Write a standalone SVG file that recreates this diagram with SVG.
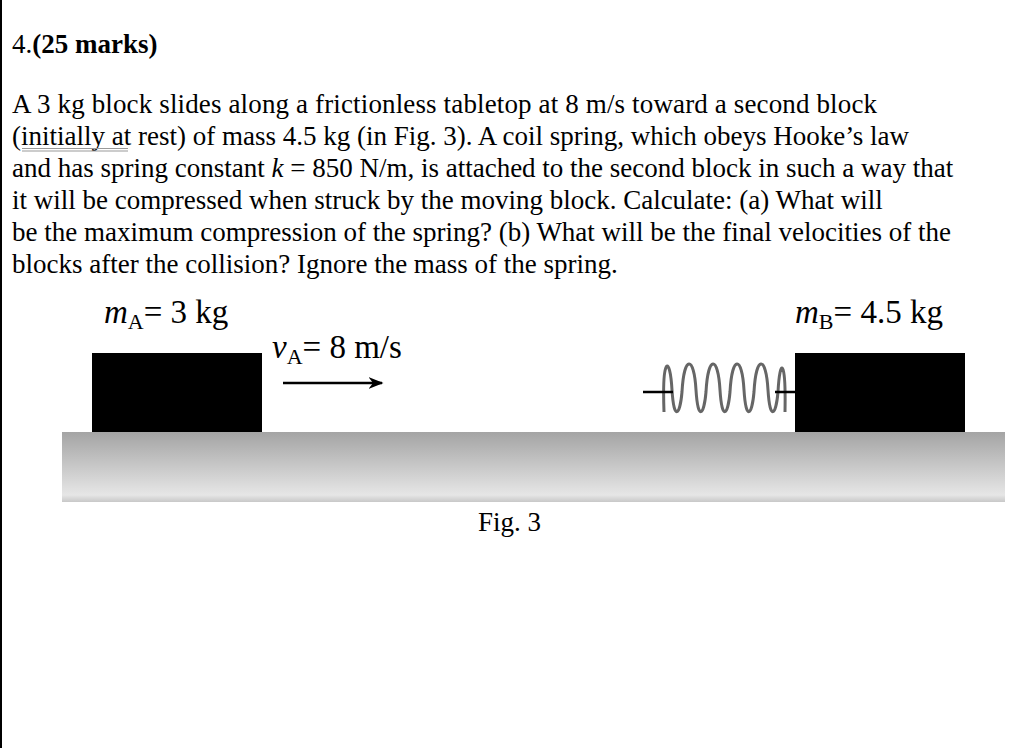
<svg xmlns="http://www.w3.org/2000/svg" width="1024" height="748" viewBox="0 0 1024 748">
<defs>
<linearGradient id="tbl" x1="0" y1="0" x2="0" y2="1">
<stop offset="0" stop-color="#a4a4a4"/><stop offset="0.9" stop-color="#e6e6e6"/><stop offset="1" stop-color="#c8c8c8"/>
</linearGradient>
<marker id="ah" viewBox="0 0 10 10" refX="9" refY="5" markerWidth="6" markerHeight="6" orient="auto"><path d="M0,1 L10,5 L0,9 L3,5 Z" fill="#000"/></marker>
</defs>
<style>
text{font-family:"Liberation Serif","Times New Roman",serif;fill:#000}
.b{font-size:27px}
.l{font-size:33px}
.s{font-size:22px}
</style>
<rect width="1024" height="748" fill="#fff"/>
<rect x="0" y="0" width="2" height="748" fill="#000"/>
<text class="b" x="12" y="53">4.<tspan font-weight="bold">(25 marks)</tspan></text>
<g class="b">
<text class="b" x="12" y="113" textLength="865">A 3 kg block slides along a frictionless tabletop at 8 m/s toward a second block</text>
<text class="b" x="12" y="145">(initially at rest) of mass 4.5 kg (in Fig. 3). A coil spring, which obeys Hooke’s law</text>
<text class="b" x="12" y="177">and has spring constant <tspan font-style="italic">k</tspan> = 850 N/m, is attached to the second block in such a way that</text>
<text class="b" x="12" y="209">it will be compressed when struck by the moving block. Calculate: (a) What will</text>
<text class="b" x="12" y="241">be the maximum compression of the spring? (b) What will be the final velocities of the</text>
<text class="b" x="12" y="273">blocks after the collision? Ignore the mass of the spring.</text>
</g>
<path d="M22,148.5 H128 M22,151 H128" stroke="#999" stroke-width="1"/>
<rect id="table" x="62" y="432" width="943" height="70" fill="url(#tbl)"/>
<g id="blockA"><rect x="92" y="353" width="170" height="79" fill="#000"/></g>
<g id="blockB"><rect x="795" y="353" width="170" height="79" fill="#000"/></g>
<g id="spring" fill="none" stroke="#666" stroke-width="3">
<path d="M664,412 C662,355 670,355 672,390 C674,422 680,415 682,392 C684,355 694,355 696,390 C698,422 704,415 706,392 C708,355 718,355 720,390 C722,422 728,415 730,392 C732,355 742,355 744,390 C746,422 752,415 754,392 C756,355 766,355 768,390 C770,422 776,415 778,392 C780,355 786,360 785,412"/>
<path d="M643,392 H673 M775,392 H795" stroke="#000" stroke-width="2.5"/>
</g>
<g id="connectors"><line x1="283" y1="383" x2="382" y2="383" stroke="#000" stroke-width="2.5" marker-end="url(#ah)"/></g>
<text class="l" x="104" y="323"><tspan font-style="italic">m</tspan><tspan class="s" dy="6">A</tspan><tspan dy="-6">= 3 kg</tspan></text>
<text class="l" x="272" y="358"><tspan font-style="italic">v</tspan><tspan class="s" dy="6">A</tspan><tspan dy="-6">= 8 m/s</tspan></text>
<text class="l" x="795" y="323"><tspan font-style="italic">m</tspan><tspan class="s" dy="6">B</tspan><tspan dy="-6">= 4.5 kg</tspan></text>
<text class="b" x="478" y="531">Fig. 3</text>
</svg>
